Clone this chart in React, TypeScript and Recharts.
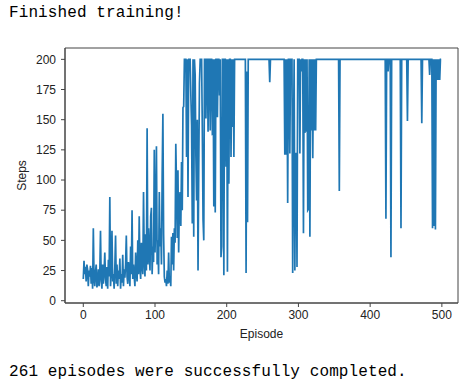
import {
  LineChart,
  Line,
  XAxis,
  YAxis,
  ReferenceArea,
} from 'recharts'

// steps per episode (episodes 0..499, 20 per row)
const steps = [
  18, 33, 22, 28, 16, 30, 26, 12, 25, 20, 29, 14, 27, 10, 60, 18, 12, 24, 30, 11,
  15, 26, 12, 22, 58, 16, 10, 30, 14, 24, 40, 18, 12, 28, 10, 34, 20, 86, 12, 25,
  58, 16, 22, 10, 28, 54, 14, 30, 12, 25, 18, 35, 10, 22, 15, 38, 12, 26, 19, 30,
  54, 20, 14, 32, 24, 12, 45, 22, 75, 18, 30, 20, 12, 40, 25, 16, 50, 22, 70, 28,
  18, 48, 30, 22, 90, 35, 20, 55, 25, 143, 30, 60, 38, 25, 70, 77, 22, 45, 32, 125,
  40, 65, 128, 30, 50, 22, 90, 45, 60, 30, 105, 155, 55, 20, 15, 18, 12, 25, 14, 40,
  15, 20, 12, 53, 30, 56, 25, 60, 48, 130, 95, 52, 108, 40, 85, 90, 62, 115, 75, 160,
  161, 200, 200, 200, 119, 200, 86, 200, 200, 200, 170, 145, 64, 200, 53, 200, 187, 120, 83, 150,
  25, 110, 180, 200, 200, 200, 140, 67, 50, 200, 200, 151, 200, 200, 140, 200, 200, 141, 200, 200,
  137, 200, 78, 200, 73, 200, 200, 152, 200, 200, 170, 200, 36, 45, 200, 200, 21, 200, 200, 111,
  200, 24, 200, 97, 200, 200, 119, 200, 144, 200, 119, 200, 200, 200, 200, 200, 200, 200, 200, 200,
  200, 200, 200, 200, 200, 200, 200, 23, 190, 65, 200, 200, 200, 200, 200, 200, 200, 200, 200, 200,
  200, 200, 200, 200, 200, 200, 200, 200, 200, 200, 200, 200, 200, 200, 200, 200, 200, 200, 200, 200,
  181, 200, 200, 200, 200, 200, 200, 200, 200, 200, 200, 200, 200, 200, 200, 200, 200, 200, 200, 200,
  200, 121, 200, 121, 200, 81, 200, 200, 122, 200, 200, 200, 23, 122, 200, 25, 122, 122, 28, 200,
  200, 200, 122, 200, 190, 200, 200, 56, 200, 139, 200, 140, 200, 75, 76, 200, 53, 200, 141, 200,
  118, 200, 141, 200, 141, 200, 200, 200, 200, 200, 200, 200, 200, 200, 200, 200, 200, 200, 200, 200,
  200, 200, 200, 200, 200, 200, 200, 200, 200, 200, 200, 200, 200, 200, 200, 200, 200, 91, 200, 200,
  200, 200, 200, 200, 200, 200, 200, 200, 200, 200, 200, 200, 200, 200, 200, 200, 200, 200, 200, 200,
  200, 200, 200, 200, 200, 200, 200, 200, 200, 200, 200, 200, 200, 200, 200, 200, 200, 200, 200, 200,
  200, 200, 200, 200, 200, 200, 200, 200, 200, 200, 200, 200, 200, 200, 200, 200, 200, 200, 200, 200,
  200, 200, 68, 200, 200, 190, 200, 200, 200, 36, 200, 200, 200, 200, 200, 200, 200, 200, 200, 200,
  200, 200, 200, 60, 200, 200, 200, 200, 200, 200, 200, 200, 149, 200, 200, 200, 200, 200, 200, 200,
  200, 200, 200, 200, 200, 200, 200, 200, 200, 200, 200, 200, 147, 200, 200, 200, 200, 200, 200, 200,
  200, 200, 200, 187, 200, 200, 200, 60, 200, 62, 200, 59, 200, 183, 200, 183, 200, 183, 200, 200,
]

const xTicks = [0, 100, 200, 300, 400, 500]
const yTicks = [0, 25, 50, 75, 100, 125, 150, 175, 200]

const X_DOMAIN: [number, number] = [-25.5, 522.5]
const Y_DOMAIN: [number, number] = [-1.9, 209.4]

const data = steps.map((s, i) => ({ episode: i, steps: s }))

const MONO = "'Liberation Mono', 'Courier New', monospace"
const SANS = "'Liberation Sans', Arial, sans-serif"
const tickStyle = { fill: '#222', fontSize: 12, fontFamily: SANS }

export default function App() {
  return (
    <div style={{ position: 'fixed', left: 0, top: 0, width: 474, height: 388, background: '#fff' }}>
      <div style={{ position: 'absolute', left: 9, top: 4, fontFamily: MONO, fontSize: 16, lineHeight: '18px', color: '#000', letterSpacing: 0.1 }}>
        Finished training!
      </div>
      <div style={{ position: 'absolute', left: 0, top: 0 }}>
        <LineChart width={474} height={388} data={data} margin={{ top: 48, right: 16, bottom: 45, left: 0 }}>
          <XAxis
            dataKey="episode"
            type="number"
            domain={X_DOMAIN}
            ticks={xTicks}
            allowDataOverflow
            height={40}
            tickSize={4}
            tickMargin={3}
            tick={tickStyle}
            stroke="#444"
            label={{ value: 'Episode', position: 'insideBottom', offset: 5, style: { fill: '#222', fontSize: 12, fontFamily: SANS } }}
          />
          <YAxis
            type="number"
            domain={Y_DOMAIN}
            ticks={yTicks}
            allowDataOverflow
            width={65}
            tickSize={4}
            tickMargin={5}
            tick={tickStyle}
            stroke="#444"
            label={{ value: 'Steps', angle: -90, position: 'insideLeft', offset: 22, style: { textAnchor: 'middle', fill: '#222', fontSize: 12, fontFamily: SANS } }}
          />
          <ReferenceArea
            x1={X_DOMAIN[0]}
            x2={X_DOMAIN[1]}
            y1={Y_DOMAIN[0]}
            y2={Y_DOMAIN[1]}
            fill="none"
            stroke="#444"
            strokeWidth={1}
            ifOverflow="visible"
          />
          <Line
            type="linear"
            dataKey="steps"
            stroke="#1f77b4"
            strokeWidth={1.7}
            dot={false}
            activeDot={false}
            isAnimationActive={false}
          />
        </LineChart>
      </div>
      <div style={{ position: 'absolute', left: 9, top: 363, fontFamily: MONO, fontSize: 16, lineHeight: '18px', color: '#000', letterSpacing: 0.1 }}>
        261 episodes were successfully completed.
      </div>
    </div>
  )
}
